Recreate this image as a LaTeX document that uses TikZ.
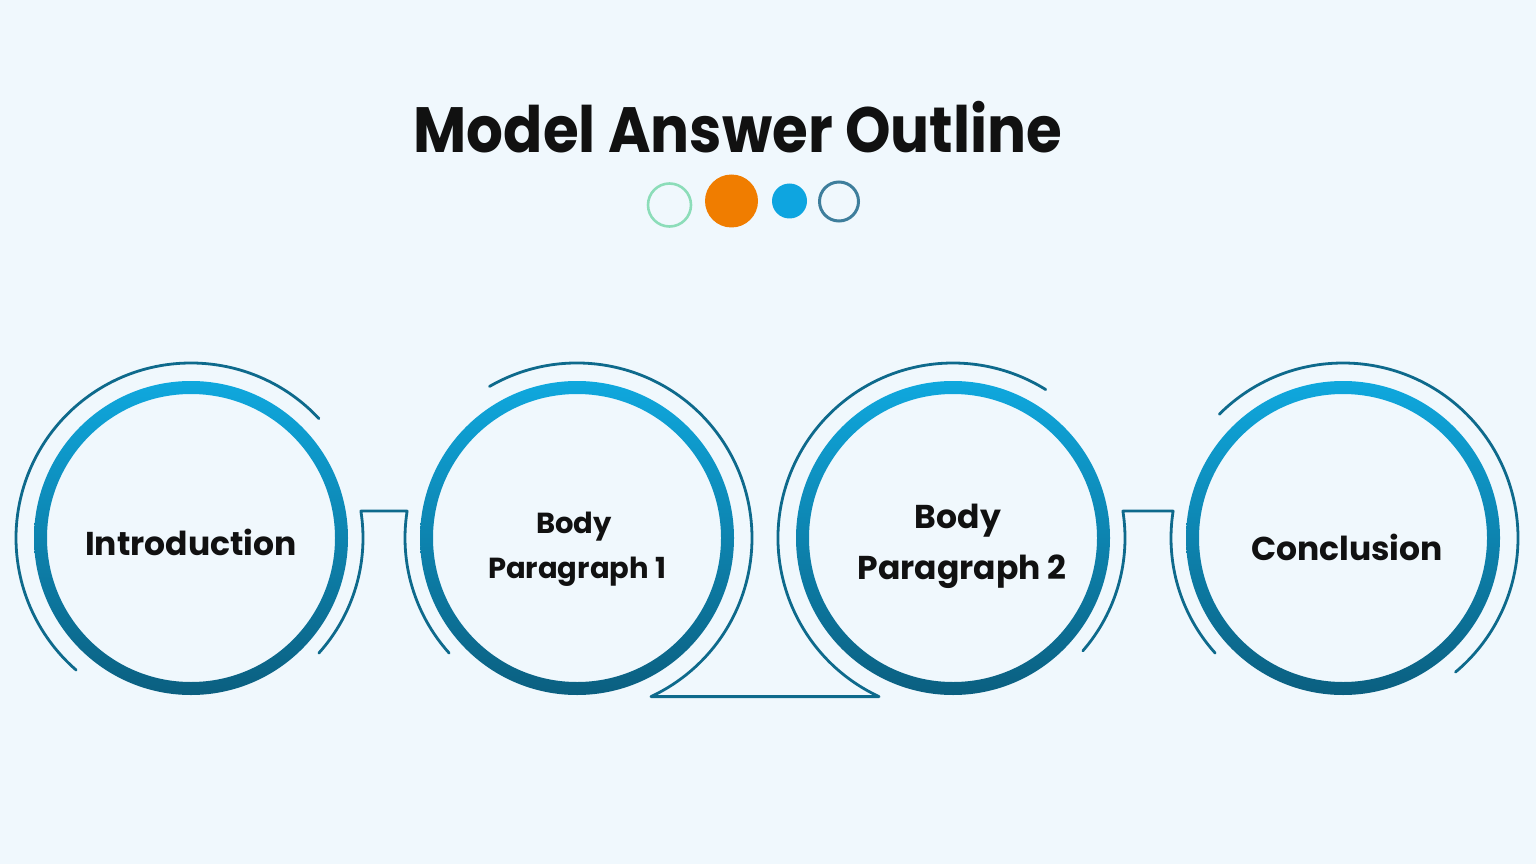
\documentclass[tikz,border=0pt]{standalone}
\usepackage{fontspec}
\setmainfont{Poppins}
\definecolor{bg}{HTML}{F0F8FD}
\definecolor{ringtop}{HTML}{0FA8DE}
\definecolor{ringbot}{HTML}{0B5F80}
\definecolor{thin}{HTML}{0E6A8C}
\definecolor{dotorange}{HTML}{F07D00}
\definecolor{dotblue}{HTML}{0EA5E0}
\definecolor{dotgreen}{HTML}{8CDDB9}
\definecolor{dotdark}{HTML}{3E7E9C}
\definecolor{ink}{HTML}{111111}
\tikzset{
  stage/.style={circle, minimum size=290, inner sep=0pt},
  label/.style={anchor=base, text=ink, inner sep=0pt},
  thinline/.style={draw=thin, line width=1.4pt, line cap=round, line join=round},
}
\newcommand{\ringat}[1]{%
  \shade[top color=ringtop, bottom color=ringbot, even odd rule]
    (#1) circle[radius=157] (#1) circle[radius=144];}
\begin{document}
\begin{tikzpicture}[x=0.5pt,y=0.5pt]
\fill[bg] (0,0) rectangle (1536,864);
\useasboundingbox (0,0) rectangle (1536,864);

% title
\node[label, font=\fontsize{32}{38}\selectfont\bfseries] (title) at (738,711) {\scalebox{0.905}[1]{Model Answer Outline}};

% decorative dots
\draw[dotgreen, line width=1.3pt] (669.5,659) circle[radius=21.5];
\fill[dotorange] (731.5,663) circle[radius=26.5];
\fill[dotblue] (789.5,663) circle[radius=17.5];
\draw[dotdark, line width=1.5pt] (839,662.5) circle[radius=19.5];

% centres
\coordinate (c1) at (191,326);
\coordinate (c2) at (577,326);
\coordinate (c3) at (953,326);
\coordinate (c4) at (1343,326);

% rings
\ringat{c1}
\ringat{c2}
\ringat{c3}
\ringat{c4}

% stage nodes
\node[stage] (n1) at (c1) {};
\node[stage] (n2) at (c2) {};
\node[stage] (n3) at (c3) {};
\node[stage] (n4) at (c4) {};

% labels
\node[label, font=\fontsize{16.5}{20}\selectfont\bfseries] (t1) at (191,309) {Introduction};
\node[label, font=\fontsize{14.5}{22}\selectfont\bfseries] (t2a) at (574,331) {Body};
\node[label, font=\fontsize{14.5}{22}\selectfont\bfseries] (t2b) at (577,286) {Paragraph 1};
\node[label, font=\fontsize{16.5}{22}\selectfont\bfseries] (t3a) at (958,336) {Body};
\node[label, font=\fontsize{16.5}{22}\selectfont\bfseries] (t3b) at (962,285) {Paragraph 2};
\node[label, font=\fontsize{16.5}{20}\selectfont\bfseries] (t4) at (1347,304) {Conclusion};

% outer arcs
\draw[thinline] ([shift={(43:175)}]n1.center) arc[start angle=43, end angle=229, radius=175];
\draw[thinline] ([shift={(135:175)}]n4.center) arc[start angle=135, end angle=-50, radius=175];
% lower connector between 2 and 3
\draw[thinline] ([shift={(120:175)}]n2.center) arc[start angle=120, end angle=-65, radius=175]
  -- ([shift={(245:175)}]n3.center) arc[start angle=245, end angle=58, radius=175];
% upper connectors
\draw[thinline] ([shift={(-42:172)}]n1.center) arc[start angle=-42, end angle=9, radius=172]
  -- ([shift={(171:172)}]n2.center) arc[start angle=171, end angle=222, radius=172];
\draw[thinline] ([shift={(-41:172)}]n3.center) arc[start angle=-41, end angle=9, radius=172]
  -- ([shift={(171:172)}]n4.center) arc[start angle=171, end angle=222, radius=172];
\end{tikzpicture}
\end{document}
